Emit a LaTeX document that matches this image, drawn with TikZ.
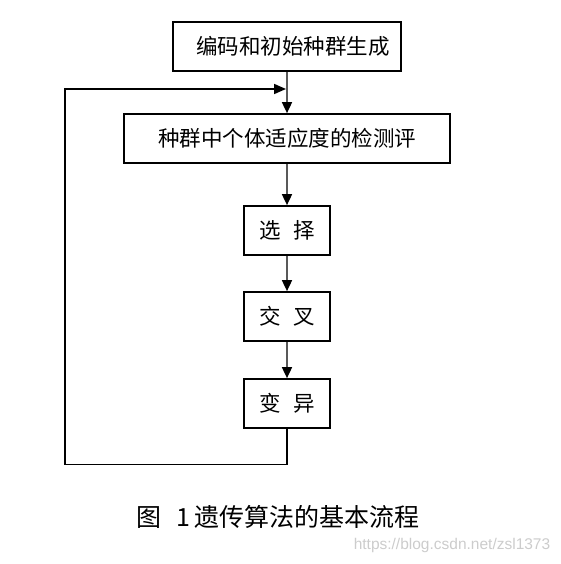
\documentclass[tikz,border=0pt]{standalone}
\usepackage{fontspec}
\newfontfamily\cjk{Noto Sans CJK SC}
\newfontfamily\wm{Liberation Sans}
\usetikzlibrary{arrows.meta}
\begin{document}
\begin{tikzpicture}[x = 1pt, y = -1pt,
		box/.style = {draw, line width = 1.7pt, minimum height = 49pt, inner sep = 0pt, font = \cjk\fontsize{21.5}{21.5}\selectfont},
		flow/.style = {draw = black!65, line width = 1.7pt, -{Triangle[length = 11pt, width = 10pt, color = black]}},
		back/.style = {draw = black, line width = 1.7pt, -{Triangle[length = 12pt, width = 10pt]}}]
		\useasboundingbox (0, 0) rectangle (561, 564);
		\node[box, minimum width = 228pt] (init) at (287, 46.5) {\hspace{12pt}编码和初始种群生成};
		\node[box, minimum width = 326pt] (eval) at (287, 138.5) {种群中个体适应度的检测评\hspace{18pt}};
		\foreach \n/\y/\t in {sel/230.5/{选\hspace{.6em}择}, cross/316.5/{交\hspace{.6em}叉}, mut/403.5/{变\hspace{.6em}异}}{
			\node[box, minimum width = 86pt] (\n) at (287, \y) {\t};}
		\foreach \a/\b in {init/eval, eval/sel, sel/cross, cross/mut}{
			\draw[flow] (\a) -- (\b);}
		\coordinate (join) at (286, 89);
		\coordinate (low) at (287, 464.5);
		\draw[back] (mut) -- (low) -- ++(-222, 0) |- (join);
		\node[font = \cjk\fontsize{25}{25}\selectfont] (cap) at (278, 517) {图\hspace{.6em}1\hspace{.15em}遗传算法的基本流程};
		\node[font = \wm\fontsize{15.5}{15.5}\selectfont, text = black!20] (mark) at (452, 545) {https://blog.csdn.net/zsl1373};
		\end{tikzpicture}
\end{document}
